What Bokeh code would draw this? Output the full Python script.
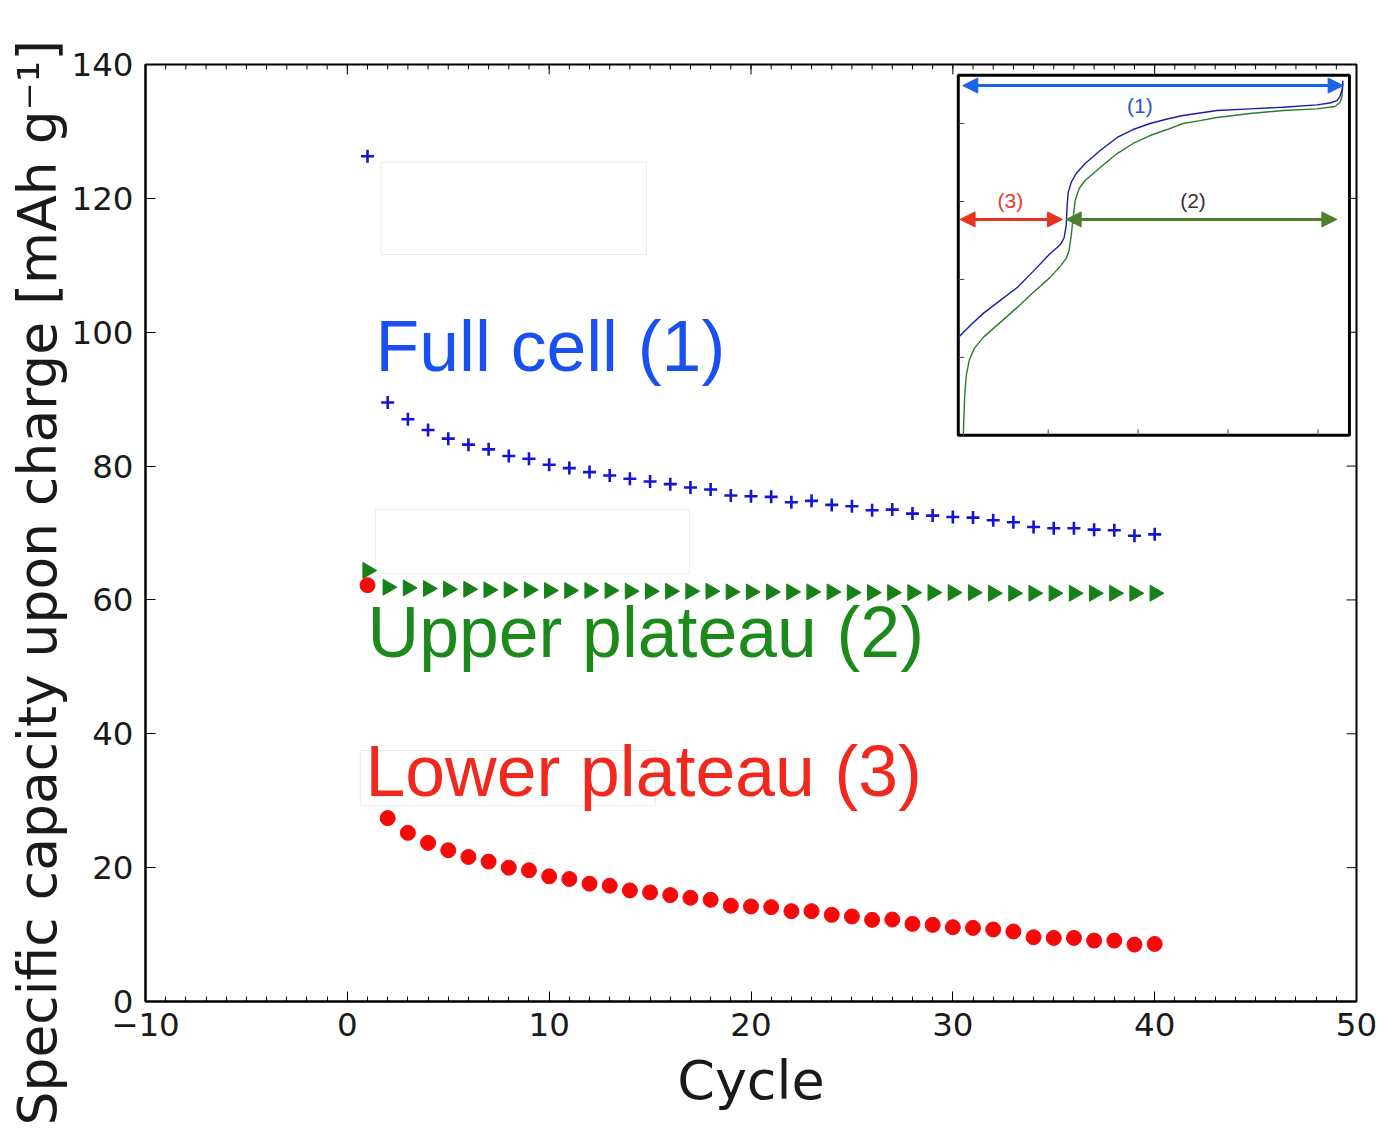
import numpy as np
from bokeh.plotting import figure
from bokeh.models import (Range1d, SingleIntervalTicker, Label, Arrow, Title,
                          NormalHead, CustomJSTickFormatter, BoxAnnotation)
from bokeh.embed import file_html
from bokeh.resources import INLINE

# ---------------- data ----------------
cycles = list(range(1, 41))
full_cell = [126.3, 89.5, 87.0, 85.4, 84.1, 83.2, 82.5, 81.5, 81.1, 80.2,
             79.7, 79.1, 78.6, 78.1, 77.7, 77.3, 76.8, 76.5, 75.6, 75.5,
             75.4, 74.6, 74.8, 74.2, 74.0, 73.4, 73.5, 72.9, 72.6, 72.4,
             72.3, 71.9, 71.6, 70.9, 70.7, 70.7, 70.5, 70.4, 69.6, 69.8]
upper_plateau = [64.4, 61.9, 61.8, 61.7, 61.6, 61.6, 61.5, 61.5, 61.5, 61.4,
                 61.4, 61.4, 61.4, 61.3, 61.3, 61.3, 61.3, 61.3, 61.2, 61.2,
                 61.2, 61.2, 61.2, 61.2, 61.1, 61.1, 61.1, 61.1, 61.1, 61.1,
                 61.1, 61.0, 61.0, 61.0, 61.0, 61.0, 61.0, 61.0, 61.0, 61.0]
lower_plateau = [62.2, 27.4, 25.2, 23.7, 22.6, 21.6, 20.9, 20.0, 19.6, 18.7,
                 18.3, 17.6, 17.3, 16.6, 16.3, 15.9, 15.5, 15.2, 14.3, 14.2,
                 14.1, 13.5, 13.5, 12.95, 12.7, 12.2, 12.25, 11.6, 11.45, 11.1,
                 11.0, 10.76, 10.46, 9.6, 9.5, 9.5, 9.1, 9.1, 8.5, 8.6]

series_labels = ["Full cell (1)", "Upper plateau (2)", "Lower plateau (3)"]
x_label = "Cycle"
y_label = "Specific capacity upon charge [mAh g\u207b\u00b9]"
x_limits = (-10, 50)
y_limits = (0, 140)

# inset: charge curves (arbitrary capacity / voltage units)
inset_full_x = [0.0, 0.133, 0.278, 0.467, 0.656, 0.833, 1.022, 1.100, 1.144, 1.178,
                1.200, 1.211, 1.222, 1.256, 1.311, 1.411, 1.578, 1.767, 1.944, 2.133,
                2.322, 2.500, 2.689, 2.878, 3.244, 3.611, 3.989, 4.133, 4.211, 4.244,
                4.267, 4.278]
inset_full_y = [1.256, 1.410, 1.564, 1.731, 1.897, 2.103, 2.333, 2.410, 2.462, 2.538,
                2.692, 2.949, 3.115, 3.244, 3.359, 3.487, 3.654, 3.821, 3.923, 4.000,
                4.058, 4.103, 4.135, 4.167, 4.188, 4.209, 4.240, 4.263, 4.295, 4.346,
                4.423, 4.551]
inset_half_x = [0.056, 0.061, 0.072, 0.089, 0.122, 0.178, 0.278, 0.467, 0.656, 0.833,
                1.022, 1.133, 1.200, 1.233, 1.256, 1.278, 1.300, 1.344, 1.411, 1.578,
                1.767, 1.944, 2.133, 2.322, 2.500, 2.689, 2.878, 3.244, 3.611, 3.989,
                4.189, 4.244, 4.267, 4.278]
inset_half_y = [0.0, 0.192, 0.513, 0.769, 0.962, 1.115, 1.256, 1.449, 1.641, 1.833,
                2.026, 2.167, 2.269, 2.372, 2.564, 2.795, 3.013, 3.167, 3.269, 3.436,
                3.615, 3.744, 3.846, 3.923, 4.000, 4.038, 4.077, 4.128, 4.167, 4.188,
                4.218, 4.269, 4.346, 4.513]
inset_ticks = [1, 2, 3, 4]
inset_labels = ["(1)", "(2)", "(3)"]
IX_MAX, IY_MAX = 4.35, 4.62

# ---------------- figure ----------------
FONT = "DejaVu Sans"
TFONT = "Liberation Sans"
p = figure(width=1392, height=1142, x_range=Range1d(*x_limits), y_range=Range1d(*y_limits),
           output_backend="svg", toolbar_location=None,
           min_border_left=145, min_border_right=36, min_border_top=64, min_border_bottom=141)
p.background_fill_color = "white"
p.border_fill_color = "white"
p.grid.visible = False
p.outline_line_color = "black"
p.outline_line_width = 2

xt = SingleIntervalTicker(interval=10, num_minor_ticks=10)
yt = SingleIntervalTicker(interval=20, num_minor_ticks=0)
fmt = CustomJSTickFormatter(code="return tick < 0 ? '\u2212' + Math.abs(tick) : tick.toString();")

for ax, tk in ((p.xaxis[0], xt), (p.yaxis[0], yt)):
    ax.ticker = tk
    ax.major_tick_in = 10
    ax.major_tick_out = 0
    ax.minor_tick_in = 5
    ax.minor_tick_out = 0
    ax.major_tick_line_color = "black"
    ax.minor_tick_line_color = "black"
    ax.axis_line_color = "black"
    ax.axis_line_width = 2
    ax.major_label_text_font = FONT
    ax.major_label_text_color = "#1a1a1a"
    ax.major_label_text_font_size = "32.5px"
p.xaxis[0].formatter = fmt
p.xaxis[0].major_label_standoff = 11
p.yaxis[0].major_label_standoff = 12

p.xaxis[0].axis_label = x_label
p.xaxis[0].axis_label_text_font = FONT
p.xaxis[0].axis_label_text_font_size = "54px"
p.xaxis[0].axis_label_text_font_style = "normal"
p.xaxis[0].axis_label_text_color = "#1a1a1a"
p.xaxis[0].axis_label_standoff = 10

# y label: a side title (it sits lower than the frame centre in the original)
p.add_layout(Title(text=y_label, align="left", offset=-124, standoff=0,
                   text_font=FONT, text_font_size="53.5px", text_font_style="normal",
                   text_color="#1a1a1a"), "left")

# mirrored ticks on top and right spines
top_major = np.arange(x_limits[0], x_limits[1] + 1, 10)
top_minor = np.arange(x_limits[0], x_limits[1] + 1, 1)
right_major = np.arange(y_limits[0], y_limits[1] + 1, 20)
p.ray(x=top_minor, y=[y_limits[1]] * len(top_minor), length=5, length_units="screen",
      angle=-np.pi / 2, line_color="black", line_width=1)
p.ray(x=top_major, y=[y_limits[1]] * len(top_major), length=10, length_units="screen",
      angle=-np.pi / 2, line_color="black", line_width=1)
p.ray(x=[x_limits[1]] * len(right_major), y=right_major, length=10, length_units="screen",
      angle=np.pi, line_color="black", line_width=1)

# empty white boxes present in the original
for (l, r, b, t) in [(1.68, 14.82, 111.6, 125.4), (1.39, 16.95, 63.9, 73.5), (0.64, 15.26, 29.3, 37.5)]:
    p.add_layout(BoxAnnotation(left=l, right=r, bottom=b, top=t, fill_color="white", fill_alpha=1.0,
                               line_color="#bdbdbd", line_width=1, level="underlay"))

# series
p.scatter(cycles, full_cell, marker="cross", size=13, line_color="#1414d2", line_width=2.6)
p.scatter(cycles, upper_plateau, marker="triangle", angle=-np.pi / 2, size=16,
          fill_color="#188018", line_color="#188018")
p.scatter(cycles, lower_plateau, marker="circle", size=15, fill_color="#f50a0a", line_color="#f50a0a")

for txt, x, y, c in [(series_labels[0], 1.4, 97.9, "#1a50f0"),
                     (series_labels[1], 1.0, 55.2, "#1b8a1b"),
                     (series_labels[2], 0.9, 34.5, "#f0281e")]:
    p.add_layout(Label(x=x, y=y, text=txt, text_color=c, text_font=TFONT, text_font_size="71.5px",
                       text_align="left", text_baseline="alphabetic"))

# ---------------- inset (own ranges) ----------------
in_l, in_r = 30.27, 49.65     # inset placement in main x units
in_b, in_t = 84.6, 138.4      # inset placement in main y units
sx = IX_MAX / (in_r - in_l)
sy = IY_MAX / (in_t - in_b)
p.extra_x_ranges = {"ix": Range1d(-(in_l - x_limits[0]) * sx, IX_MAX + (x_limits[1] - in_r) * sx)}
p.extra_y_ranges = {"iy": Range1d(-(in_b - y_limits[0]) * sy, IY_MAX + (y_limits[1] - in_t) * sy)}
R = dict(x_range_name="ix", y_range_name="iy")

p.quad(left=0, right=IX_MAX, bottom=0, top=IY_MAX, fill_color="white", line_color="black",
       line_width=3, **R)
p.ray(x=inset_ticks, y=[0] * 4, length=6, length_units="screen", angle=np.pi / 2,
      line_color="#444444", line_width=1, **R)
p.ray(x=[0] * 4, y=inset_ticks, length=6, length_units="screen", angle=0,
      line_color="#444444", line_width=1, **R)
p.line(inset_half_x, inset_half_y, line_color="#2f7a2f", line_width=1.4, **R)
p.line(inset_full_x, inset_full_y, line_color="#1c1ca8", line_width=1.4, **R)


def arrow(x0, x1, y, c):
    p.add_layout(Arrow(start=NormalHead(size=15, fill_color=c, line_color=c),
                       end=NormalHead(size=15, fill_color=c, line_color=c),
                       x_start=x0, x_end=x1, y_start=y, y_end=y,
                       line_color=c, line_width=3, **R))


arrow(0.05, 4.28, 4.487, "#1a64e6")
arrow(0.02, 1.16, 2.77, "#e8321e")
arrow(1.20, 4.21, 2.77, "#4f7f2a")

for txt, x, y, c in [(inset_labels[0], 2.02, 4.23, "#2a50e0"),
                     (inset_labels[1], 2.61, 3.01, "#333333"),
                     (inset_labels[2], 0.58, 3.01, "#e0402a")]:
    p.add_layout(Label(x=x, y=y, text=txt, text_color=c, text_font=TFONT, text_font_size="21px",
                       text_align="center", text_baseline="middle", **R))

open("out.html", "w").write(file_html(p, INLINE))
